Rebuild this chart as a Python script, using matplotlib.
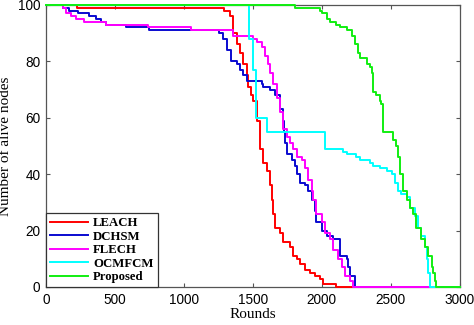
import matplotlib
matplotlib.use("Agg")
import matplotlib.pyplot as plt

# alive nodes vs rounds for each protocol (step data: round where the count changes)
leach_rounds = [0, 222, 1290, 1333, 1358, 1382, 1406, 1430, 1454, 1466, 1490, 1502, 1527, 1551,
                1575, 1599, 1623, 1635, 1647, 1659, 1696, 1720, 1768, 1792, 1817, 1841, 1877,
                1913, 1949, 1986, 2010, 2106, 3000]
leach_nodes = [100, 99, 98, 96, 90, 86, 83, 79, 75, 71, 68, 66, 59, 49,
               44, 41, 36, 31, 26, 21, 19, 16, 14, 11, 10, 8, 6,
               5, 4, 3, 1, 0, 0]

dchsm_rounds = [0, 126, 169, 229, 314, 362, 398, 435, 580, 749, 1256, 1285, 1309, 1345, 1382,
                1406, 1430, 1454, 1563, 1575, 1623, 1659, 1696, 1720, 1727, 1732, 1744, 1780,
                1804, 1817, 1841, 1877, 1901, 1932, 1949, 1961, 1998, 2034, 2082, 2130, 2179,
                2191, 2203, 2239, 3000]
dchsm_nodes = [100, 99, 98, 97, 96, 95, 94, 93, 92, 91, 90, 88, 84, 80, 79,
               77, 75, 73, 72, 71, 70, 68, 63, 59, 55, 51, 47, 45,
               43, 40, 37, 36, 34, 31, 27, 23, 20, 18, 17, 11, 10,
               7, 4, 0, 0]

flech_rounds = [0, 121, 145, 181, 217, 278, 435, 737, 1051, 1357, 1502, 1527, 1563, 1587,
                1611, 1623, 1647, 1672, 1696, 1720, 1744, 1768, 1792, 1817, 1853, 1877, 1901,
                1925, 1937, 1961, 1998, 2022, 2058, 2082, 2118, 2143, 2167, 2203, 2227, 3000]
flech_nodes = [100, 99, 97, 96, 95, 94, 93, 92, 91, 89, 88, 87, 85, 82,
               79, 76, 72, 67, 62, 56, 53, 51, 49, 46, 45, 42, 38,
               34, 31, 26, 23, 19, 17, 13, 10, 7, 4, 2, 0, 0]

ocmfcm_rounds = [0, 1473, 1502, 1522, 1599, 2022, 2155, 2179, 2251, 2275, 2348, 2372, 2420,
                 2469, 2505, 2529, 2553, 2577, 2614, 2638, 2674, 2698, 2722, 2746, 2759, 2771,
                 2783, 3000]
ocmfcm_nodes = [100, 88, 77, 60, 55, 49, 48, 47, 46, 45, 44, 43, 42,
                41, 40, 37, 34, 33, 32, 28, 25, 21, 18, 14, 10, 5,
                0, 0]

proposed_rounds = [0, 1804, 1986, 1998, 2034, 2058, 2106, 2130, 2179, 2215, 2239, 2263, 2275,
                   2324, 2348, 2360, 2372, 2396, 2420, 2432, 2444, 2517, 2541, 2553, 2565, 2589,
                   2614, 2638, 2662, 2686, 2722, 2746, 2771, 2795, 2807, 2819, 2826, 3000]
proposed_nodes = [100, 99, 98, 97, 95, 94, 93, 92, 91, 89, 86, 83, 81,
                  79, 78, 76, 69, 68, 66, 65, 55, 52, 50, 46, 40, 34,
                  31, 28, 26, 21, 17, 14, 11, 7, 5, 2, 0, 0]

series = [
    ("LEACH", leach_rounds, leach_nodes, "#ff0000"),
    ("DCHSM", dchsm_rounds, dchsm_nodes, "#0a0ad0"),
    ("FLECH", flech_rounds, flech_nodes, "#ff00ff"),
    ("OCMFCM", ocmfcm_rounds, ocmfcm_nodes, "#00ffff"),
    ("Proposed", proposed_rounds, proposed_nodes, "#11ee11"),
]

fig = plt.figure(figsize=(4.74, 3.25), dpi=100)
ax = fig.add_axes([0.097, 0.117, 0.873, 0.868])

for name, r, n, col in series:
    ax.plot(r, n, drawstyle="steps-post", color=col, lw=1.4, label=name,
            zorder=3, clip_on=False)

ax.set_xlim(0, 3000)
ax.set_ylim(0, 100)
ax.set_xticks(range(0, 3001, 500))
ax.set_yticks(range(0, 101, 20))
ax.tick_params(direction="in", top=True, right=True, length=3, width=0.8,
               color="#555555", labelsize=9.8, pad=4)
for lbl in ax.get_xticklabels() + ax.get_yticklabels():
    lbl.set_family("Liberation Sans")
for s in ax.spines.values():
    s.set_color("#555555")
    s.set_linewidth(0.9)

ax.set_xlabel("Rounds", family="Liberation Serif", fontsize=11, labelpad=1)
ax.set_ylabel("Number of alive nodes", family="Liberation Serif", fontsize=11, labelpad=4)

leg = ax.legend(loc="lower left", fancybox=False, borderaxespad=0, handlelength=3.0,
                handletextpad=0.4, labelspacing=0.12, borderpad=0.3,
                prop={"family": "Liberation Serif", "weight": "bold", "size": 9.2})
leg.get_frame().set_edgecolor("#333333")
leg.get_frame().set_linewidth(0.9)
leg.get_frame().set_alpha(1)
leg.set_zorder(5)

fig.savefig("out.png", dpi=100)
